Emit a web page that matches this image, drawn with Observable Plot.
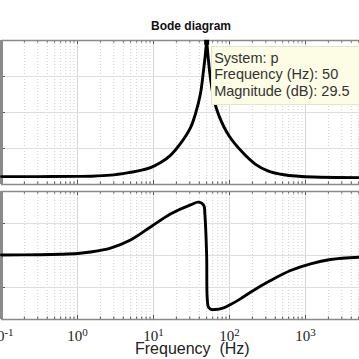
<!DOCTYPE html>
<html><head><meta charset="utf-8">
<script src="https://cdn.jsdelivr.net/npm/d3@7"></script>
<script src="https://cdn.jsdelivr.net/npm/@observablehq/plot@0.6"></script>
<style>
body{margin:0;background:#fff;}
#wrap{position:relative;width:359px;height:359px;overflow:hidden;font-family:"Liberation Sans",Arial,sans-serif;}
#title{position:absolute;left:0;top:20px;width:382px;text-align:center;font-weight:bold;font-size:12px;line-height:12px;color:#111;}
.panel{position:absolute;left:0;}
.panel svg{overflow:visible;}
#xlabel{position:absolute;left:135px;top:341px;font-size:16px;line-height:16px;color:#222;white-space:pre;}
#tip{position:absolute;background:#fdfde6;border:1px solid #e4e4cc;color:#333;font-size:14.5px;line-height:16.5px;padding:3px 10px 5px 2px;white-space:pre;}
</style></head>
<body><div id="wrap">
<div id="title">Bode diagram</div>
<div id="p1" class="panel" style="top:40px"></div>
<div id="p2" class="panel" style="top:191px"></div>
<div id="xlabel">Frequency  (Hz)</div>
</div>
<script>
// ---- data ----
const magFreq = [0.1, 0.3, 1.0, 1.48, 2.72, 4.98, 6.74, 9.14, 12.4, 16.7, 22.7, 30.7, 35.7, 41.5, 45.5, 48, 50, 52, 55, 62.1, 72.3, 97.9, 147, 220, 326, 514, 809, 1273, 5130];
const magDb   = [-7.8, -7.8, -7.75, -7.7, -7.4, -6.6, -6.1, -5.3, -3.9, -1.9, 1.4, 5.8, 9.7, 15.3, 21.7, 26, 29.5, 26, 21, 13.8, 9.2, 3.6, -1.0, -4.4, -6.3, -7.3, -7.7, -7.9, -8.1];
const phFreq  = [0.1, 0.326, 0.597, 1, 1.48, 2.72, 4.98, 9.14, 16.7, 30.7, 39.4, 45.9, 47.3, 50, 50.8, 52.8, 56.3, 64, 83.9, 103, 139, 189, 346, 635, 1164, 2134, 5130];
const phDeg   = [0.7, 1.1, 1.7, 2.8, 4.9, 10.5, 21.8, 40.1, 58.4, 71.3, 75, 70.3, 59, 0, -58.6, -72.7, -75.5, -76, -73.5, -69, -61, -51.6, -35.2, -21.1, -11.7, -5.6, -2.4];
const decades   = [0.1, 1, 10, 100, 1000];
const decadeExp = ["-1", "0", "1", "2", "3"];
const magTicks   = [0, 10, 20];
const phaseTicks = [-45, 0, 45];
const peakPoint  = [{f: 50, db: 29.5}];
const tipLines   = ["System: p", "Frequency (Hz): 50", "Magnitude (dB): 29.5"];

const W = 359, fMax = 5130;
const magData = magFreq.map((f, i) => ({f, v: magDb[i]}));
const phData  = phFreq.map((f, i) => ({f, v: phDeg[i]}));
const minors = decades.flatMap(d => d3.range(2, 10).map(k => k * d)).filter(v => v <= fMax);
const axisGray = "#8a8a8a", tickCol = "#555";

function panel(data, yDomain, yTicks, PH, extraBottom, extra) {
  return Plot.plot({
    width: W, height: PH + extraBottom,
    marginLeft: 1, marginRight: 0, marginTop: 0, marginBottom: extraBottom,
    x: {type: "log", domain: [0.1, fMax], axis: null},
    y: {domain: yDomain, axis: null},
    marks: [
      Plot.ruleX(minors, {stroke: "#cfcfcf", strokeDasharray: "1,2"}),
      Plot.ruleX(decades, {stroke: "#d6d6d6"}),
      Plot.ruleY(yTicks, {stroke: "#dedede"}),
      // inward tick marks
      Plot.ruleX(decades, {insetBottom: PH - 4, stroke: tickCol}),
      Plot.ruleX(decades, {insetTop: PH - 4, stroke: tickCol}),
      Plot.ruleX(minors, {insetBottom: PH - 2.5, stroke: tickCol}),
      Plot.ruleX(minors, {insetTop: PH - 2.5, stroke: tickCol}),
      Plot.ruleY(yTicks, {insetRight: W - 1 - 4, stroke: tickCol}),
      // frame
      Plot.ruleY(yDomain, {stroke: axisGray, strokeWidth: 1.6}),
      Plot.ruleX([0.1], {stroke: axisGray, strokeWidth: 3}),
      Plot.line(data, {x: "f", y: "v", stroke: "#000", strokeWidth: 2.9, curve: "catmull-rom"}),
      ...extra
    ]
  });
}

const p1 = panel(magData, [-10, 30], magTicks, 144, 0, [
  Plot.dot(peakPoint, {x: "f", y: "db", symbol: "square", fill: "#000", r: 2.8})
]);
document.getElementById("p1").appendChild(p1);

const p2 = panel(phData, [-90, 90], phaseTicks, 128, 40, [
  Plot.axisX({ticks: decades, tickSize: 0, tickPadding: 11, label: null,
    tickFormat: d => "10^" + decadeExp[decades.indexOf(d)],
    fontSize: 15, fontFamily: "'Liberation Serif','Times New Roman',serif", fill: "#222"})
]);
document.getElementById("p2").appendChild(p2);

// superscript exponents on the x tick labels
d3.select(p2).selectAll("text").each(function() {
  const t = this.textContent, m = /^10\^(.+)$/.exec(t);
  if (!m) return;
  const el = d3.select(this);
  el.text("10");
  el.append("tspan").attr("dy", "-0.5em").attr("font-size", "11px").text(m[1]);
});

// data tip anchored at the peak via the library's scales
const sx = p1.scale("x"), sy = p1.scale("y");
const tip = document.createElement("div");
tip.id = "tip";
tip.textContent = tipLines.join("\n");
tip.style.left = (sx.apply(peakPoint[0].f) + 5) + "px";
tip.style.top = (40 + sy.apply(peakPoint[0].db) + 4) + "px";
document.getElementById("wrap").appendChild(tip);
</script>
</body></html>
